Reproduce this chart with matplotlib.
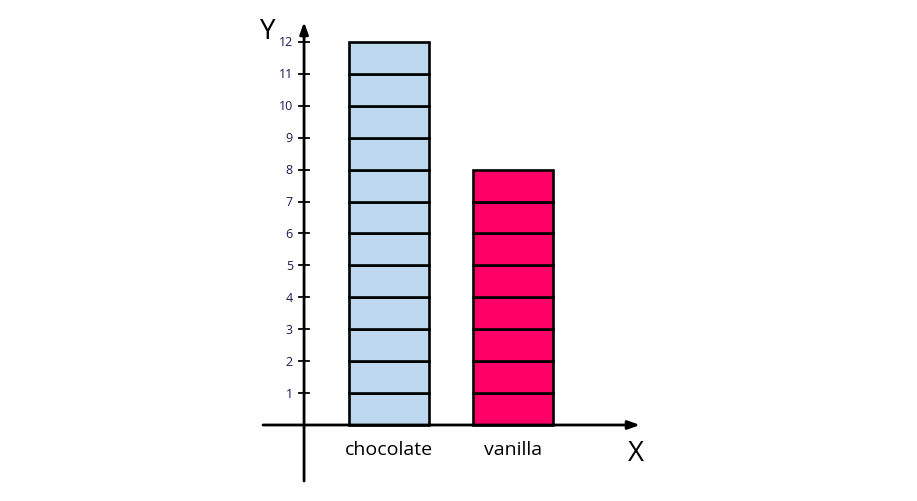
import matplotlib
matplotlib.use("Agg")
import matplotlib.pyplot as plt

categories = ["chocolate", "vanilla"]
values = [12, 8]
colors = ["#BDD7EE", "#FF0066"]
yticks = list(range(1, 13))

fig = plt.figure(figsize=(9.17, 5.02), dpi=100)
ax = fig.add_axes([0, 0, 1, 1])
ax.set_xlim(-3.137, 4.258)
ax.set_ylim(-2.381, 13.346)
ax.axis("off")

# bars made of unit blocks
for i, (v, c) in enumerate(zip(values, colors)):
    for b in range(v):
        ax.bar(i, 1, bottom=b, width=0.645, color=c, edgecolor="black", linewidth=1.9, zorder=3)
    ax.text(i, -0.74, categories[i], ha="center", va="center", fontsize=14,
            family="Open Sans", color="black")

yax_x = -0.685
# axes with arrows
ax.annotate("", xy=(2.024, 0), xytext=(-1.016, 0),
            arrowprops=dict(arrowstyle="-|>,head_length=0.7,head_width=0.25", lw=2.0, color="black",
                            shrinkA=0, shrinkB=0), zorder=4)
ax.annotate("", xy=(yax_x, 12.625), xytext=(yax_x, -1.754),
            arrowprops=dict(arrowstyle="-|>,head_length=0.7,head_width=0.25", lw=2.0, color="black",
                            shrinkA=0, shrinkB=0), zorder=4)

for t in yticks:
    ax.plot([yax_x - 0.04, yax_x + 0.04], [t, t], color="black", lw=1.3, zorder=4)
    ax.text(yax_x - 0.09, t, str(t), ha="right", va="center", fontsize=9,
            family="Open Sans", color="#1a1a50")

ax.text(-0.975, 12.35, "Y", ha="center", va="center", fontsize=20, family="Open Sans", color="black")
ax.text(1.99, -0.88, "X", ha="center", va="center", fontsize=20, family="Open Sans", color="black")

fig.savefig("out.png", dpi=100)
